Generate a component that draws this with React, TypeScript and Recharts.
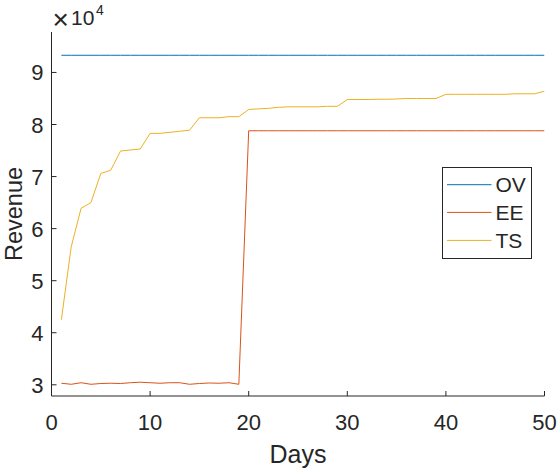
import React from 'react';
import { LineChart, Line, XAxis, YAxis, Legend } from 'recharts';

const days = [
  1, 2, 3, 4, 5, 6, 7, 8, 9, 10,
  11, 12, 13, 14, 15, 16, 17, 18, 19, 20,
  21, 22, 23, 24, 25, 26, 27, 28, 29, 30,
  31, 32, 33, 34, 35, 36, 37, 38, 39, 40,
  41, 42, 43, 44, 45, 46, 47, 48, 49, 50,
];

const ovRevenue = [
  93300, 93300, 93300, 93300, 93300, 93300, 93300, 93300, 93300, 93300,
  93300, 93300, 93300, 93300, 93300, 93300, 93300, 93300, 93300, 93300,
  93300, 93300, 93300, 93300, 93300, 93300, 93300, 93300, 93300, 93300,
  93300, 93300, 93300, 93300, 93300, 93300, 93300, 93300, 93300, 93300,
  93300, 93300, 93300, 93300, 93300, 93300, 93300, 93300, 93300, 93300,
];

const eeRevenue = [
  30300, 30100, 30400, 30100, 30250, 30300, 30250, 30400, 30500, 30400,
  30300, 30400, 30400, 30100, 30250, 30350, 30300, 30400, 30100, 78800,
  78800, 78800, 78800, 78800, 78800, 78800, 78800, 78800, 78800, 78800,
  78800, 78800, 78800, 78800, 78800, 78800, 78800, 78800, 78800, 78800,
  78800, 78800, 78800, 78800, 78800, 78800, 78800, 78800, 78800, 78800,
];

const tsRevenue = [
  42500, 56500, 63900, 65000, 70600, 71200, 74900, 75100, 75300, 78300,
  78300, 78500, 78700, 78900, 81300, 81300, 81300, 81500, 81500, 82900,
  83000, 83100, 83300, 83400, 83400, 83400, 83400, 83500, 83500, 84800,
  84800, 84800, 84850, 84850, 84900, 85000, 85000, 85000, 85000, 85800,
  85800, 85800, 85800, 85800, 85800, 85800, 85900, 85900, 85900, 86400,
];

const xTicks = [0, 10, 20, 30, 40, 50];
const yTicks = [30000, 40000, 50000, 60000, 70000, 80000, 90000];
const yDomain = [27850, 97770];
const xDomain = [0, 50];

const seriesNames = ['OV', 'EE', 'TS'];
const seriesColors = ['#0072BD', '#D95319', '#EDB120'];

const data = days.map((d, i) => ({
  day: d,
  OV: ovRevenue[i],
  EE: eeRevenue[i],
  TS: tsRevenue[i],
}));

const AXIS = '#262626';
const FONT = '"Liberation Sans", Arial, Helvetica, sans-serif';

const XTick = (props: any) => {
  const { x, y, payload } = props;
  return (
    <g>
      <line x1={x} x2={x} y1={y} y2={y - 5} stroke={AXIS} strokeWidth={1} />
      <text x={x} y={y + 34} textAnchor="middle" fontSize={22} fill={AXIS} fontFamily={FONT}>
        {payload.value}
      </text>
    </g>
  );
};

const YTick = (props: any) => {
  const { x, y, payload } = props;
  return (
    <g>
      <line x1={x} x2={x + 5} y1={y} y2={y} stroke={AXIS} strokeWidth={1} />
      <text x={x - 8} y={y + 8} textAnchor="end" fontSize={22} fill={AXIS} fontFamily={FONT}>
        {payload.value / 10000}
      </text>
    </g>
  );
};

const YLabel = (props: any) => {
  const vb = props.viewBox || { x: 0, y: 32, width: 51.5, height: 364 };
  const cy = vb.y + vb.height / 2;
  const bx = 21.5;
  return (
    <g>
      <text
        x={bx}
        y={cy}
        transform={`rotate(-90, ${bx}, ${cy})`}
        textAnchor="middle"
        fontSize={23.5}
        fill={AXIS}
        fontFamily={FONT}
      >
        Revenue
      </text>
      <text x={52.5} y={29} fontSize={28} fill={AXIS} fontFamily={FONT} fontWeight={300}>
        ×
      </text>
      <text fill={AXIS} fontFamily={FONT} y={25}>
        <tspan x={71} fontSize={21}>10</tspan>
        <tspan x={96} dy={-10} fontSize={14}>4</tspan>
      </text>
    </g>
  );
};

const XLabel = (props: any) => {
  const vb = props.viewBox || { x: 51.5, y: 396, width: 493, height: 74 };
  return (
    <text
      x={vb.x + vb.width / 2}
      y={vb.y + 67}
      textAnchor="middle"
      fontSize={25}
      fill={AXIS}
      fontFamily={FONT}
    >
      Days
    </text>
  );
};

const LegendBox = (props: any) => {
  const payload = props.payload || [];
  const rows = [17.7, 45.4, 73.4];
  const items = seriesNames.map((name, i) => {
    const found = payload.find((p: any) => p.value === name);
    return { value: name, color: (found && found.color) || seriesColors[i] };
  });
  return (
    <div
      style={{
        width: 90,
        height: 92,
        boxSizing: 'border-box',
        border: `1px solid ${AXIS}`,
        background: '#fff',
      }}
    >
      <svg width={88} height={90} style={{ display: 'block' }}>
        {items.map((p: any, i: number) => (
          <g key={p.value}>
            <line x1={4} x2={48.5} y1={rows[i] - 1} y2={rows[i] - 1} stroke={p.color} strokeWidth={1} />
            <text x={52.5} y={rows[i] + 6.5} fontSize={21} fill={AXIS} fontFamily={FONT}>
              {p.value}
            </text>
          </g>
        ))}
      </svg>
    </div>
  );
};

export default function App() {
  return (
    <div style={{ position: 'absolute', left: 0, top: 0, width: 560, height: 470, background: '#fff' }}>
      <LineChart
        width={560}
        height={470}
        data={data}
        margin={{ top: 32, right: 15.5, left: 0, bottom: 0 }}
      >
        <XAxis
          dataKey="day"
          type="number"
          domain={xDomain}
          ticks={xTicks}
          interval={0}
          height={74}
          tickSize={0}
          tickMargin={0}
          tick={<XTick />}
          axisLine={{ stroke: AXIS, strokeWidth: 1 }}
          tickLine={false}
          allowDataOverflow
          label={<XLabel />}
        />
        <YAxis
          type="number"
          domain={yDomain}
          ticks={yTicks}
          interval={0}
          width={51.5}
          tickSize={0}
          tickMargin={0}
          tick={<YTick />}
          axisLine={{ stroke: AXIS, strokeWidth: 1 }}
          tickLine={false}
          allowDataOverflow
          label={<YLabel />}
        />
        <Legend
          layout="horizontal"
          verticalAlign="middle"
          align="center"
          content={<LegendBox />}
          wrapperStyle={{ position: 'absolute', left: 442, top: 167, width: 90, height: 92 }}
        />
        {seriesNames.map((name, i) => (
          <Line
            key={name}
            type="linear"
            dataKey={name}
            name={name}
            stroke={seriesColors[i]}
            strokeWidth={1}
            dot={false}
            activeDot={false}
            isAnimationActive={false}
          />
        ))}
      </LineChart>
    </div>
  );
}
